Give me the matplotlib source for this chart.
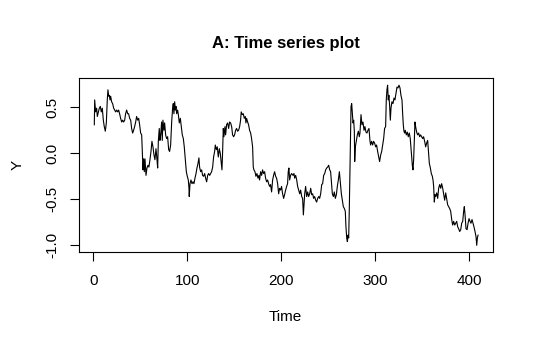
import matplotlib
matplotlib.use("Agg")
import matplotlib.pyplot as plt

plt.rcParams['font.family'] = ['Liberation Sans', 'DejaVu Sans']
plt.rcParams['axes.unicode_minus'] = False

# Values, segment by segment
time_a = [1.1, 1.5, 2.5, 3.6, 4.3, 5.4, 6.4, 7.5, 8.5, 9.6,
          10.7, 11.7, 12.8, 13.9, 14.9, 15.6, 16.4, 17.1, 17.8, 18.5,
          19.5, 20.6, 21.7, 22.7, 23.8, 24.9, 25.9, 27.0, 28.0, 29.1,
          30.2, 31.2, 32.3, 33.4, 34.4, 35.5, 36.6, 37.6, 38.7, 39.8,
          40.8, 41.9, 42.9, 44.0, 45.1, 46.1, 47.2, 48.3, 49.3, 50.4,
          51.5, 52.2, 52.9, 53.6, 54.3, 55.0, 56.1, 57.1, 58.2, 59.2,
          60.3, 61.4, 62.4, 63.5, 64.6, 65.6]
y_a = [0.31, 0.58, 0.45, 0.49, 0.40, 0.45, 0.49, 0.51, 0.45, 0.49,
       0.36, 0.29, 0.24, 0.33, 0.58, 0.69, 0.62, 0.63, 0.58, 0.62,
       0.56, 0.54, 0.49, 0.47, 0.45, 0.47, 0.45, 0.47, 0.43, 0.38,
       0.34, 0.36, 0.34, 0.36, 0.43, 0.47, 0.43, 0.43, 0.38, 0.36,
       0.27, 0.22, 0.25, 0.29, 0.34, 0.40, 0.36, 0.38, 0.31, 0.22,
       0.20, 0.02, -0.18, -0.06, -0.20, -0.06, -0.24, -0.16, -0.13, -0.15,
       -0.07, 0.02, 0.13, 0.07, -0.02, -0.07]

time_b = [66.7, 67.8, 68.5, 69.2, 70.2, 70.9, 71.7, 72.7, 73.4, 74.1,
          75.2, 75.9, 77.0, 78.0, 79.1, 80.2, 81.2, 82.3, 83.4, 84.4,
          85.1, 85.8, 86.6, 87.3, 88.0, 88.7, 89.7, 90.5, 91.5, 92.6,
          93.6, 94.7, 95.8, 96.8, 97.9, 99.0, 100.0, 101.1, 101.8, 102.1,
          102.9, 103.9, 105.0, 106.1, 107.1, 108.2, 109.3, 110.3, 111.4, 112.4,
          113.1, 114.2, 115.3, 116.3, 117.4, 118.5, 119.5, 120.6, 121.7, 122.7,
          123.8, 124.9, 125.9, 127.0, 128.0, 129.1, 129.8, 130.9, 131.9, 133.0,
          134.1, 135.1, 136.2, 136.9, 137.6, 138.3]
y_b = [0.05, -0.07, -0.16, 0.13, 0.27, 0.14, 0.20, 0.34, 0.14, 0.36,
       0.25, 0.33, 0.20, 0.16, 0.18, 0.04, 0.02, 0.09, 0.34, 0.49,
       0.54, 0.43, 0.56, 0.47, 0.51, 0.43, 0.47, 0.42, 0.33, 0.38,
       0.29, 0.20, 0.16, 0.07, -0.07, -0.20, -0.25, -0.29, -0.38, -0.47,
       -0.33, -0.29, -0.33, -0.31, -0.33, -0.27, -0.22, -0.16, -0.11, -0.05,
       -0.15, -0.20, -0.18, -0.24, -0.25, -0.22, -0.27, -0.31, -0.24, -0.22,
       -0.24, -0.22, -0.20, -0.15, -0.04, 0.02, 0.09, 0.04, 0.07, -0.04,
       0.05, 0.00, -0.11, -0.18, 0.02, 0.27]

time_c = [139.0, 140.1, 140.8, 141.8, 142.9, 144.0, 145.0, 146.1, 147.2, 148.2,
          149.3, 150.3, 151.4, 152.5, 153.5, 154.6, 155.7, 156.7, 157.4, 158.5,
          159.6, 160.6, 161.7, 162.4, 163.1, 164.2, 165.2, 166.3, 167.4, 168.4,
          169.5, 170.2, 170.9, 172.0, 173.0, 174.1, 175.2, 176.2, 176.9, 178.0,
          179.1, 180.1, 181.2, 182.3, 183.3, 184.4, 185.5, 186.5, 187.6, 188.6,
          189.7, 190.8, 191.8, 192.9, 194.0, 195.0, 196.1, 197.2, 198.2, 199.3,
          200.3, 201.4, 202.5, 203.5, 204.6, 205.7, 206.7, 207.4, 208.1, 208.9,
          209.9, 211.0]
y_c = [0.18, 0.29, 0.20, 0.31, 0.33, 0.27, 0.34, 0.33, 0.29, 0.20,
       0.18, 0.20, 0.25, 0.27, 0.24, 0.25, 0.29, 0.36, 0.45, 0.42,
       0.43, 0.38, 0.40, 0.33, 0.38, 0.34, 0.31, 0.25, 0.22, 0.16,
       0.07, -0.15, -0.18, -0.20, -0.25, -0.22, -0.27, -0.24, -0.29, -0.20,
       -0.24, -0.18, -0.22, -0.20, -0.27, -0.31, -0.29, -0.33, -0.36, -0.34,
       -0.42, -0.29, -0.24, -0.20, -0.25, -0.27, -0.33, -0.44, -0.38, -0.40,
       -0.36, -0.44, -0.49, -0.45, -0.40, -0.36, -0.33, -0.20, -0.16, -0.29,
       -0.24, -0.22]

time_d = [212.5, 213.5, 214.2, 215.3, 216.4, 217.4, 218.5, 219.6, 220.6, 221.7,
          222.7, 223.5, 224.2, 224.9, 225.9, 227.0, 228.1, 229.1, 230.2, 231.3,
          232.3, 233.4, 234.4, 235.5, 236.6, 237.6, 238.7, 239.8, 240.8, 241.9,
          243.0, 244.0, 245.1, 246.2, 247.2, 248.3, 249.3, 250.4, 251.5, 252.5,
          253.2, 254.3, 255.4, 256.4, 257.5, 258.6, 259.6, 260.7, 261.8, 262.8,
          263.9, 264.9, 266.0, 267.1, 268.1, 268.8, 269.6, 270.3, 271.0, 271.7,
          272.4, 273.1, 273.8, 274.2, 274.9, 275.6, 276.3, 277.0, 277.7, 278.1,
          278.8, 279.8, 280.9, 282.0, 283.0]
y_d = [-0.24, -0.22, -0.27, -0.24, -0.29, -0.36, -0.40, -0.44, -0.40, -0.47,
       -0.49, -0.67, -0.56, -0.44, -0.36, -0.47, -0.42, -0.47, -0.44, -0.38,
       -0.45, -0.44, -0.49, -0.47, -0.51, -0.53, -0.49, -0.47, -0.49, -0.44,
       -0.34, -0.33, -0.24, -0.22, -0.18, -0.16, -0.15, -0.13, -0.18, -0.20,
       -0.29, -0.44, -0.47, -0.42, -0.49, -0.45, -0.36, -0.29, -0.20, -0.31,
       -0.44, -0.51, -0.58, -0.60, -0.63, -0.80, -0.92, -0.96, -0.89, -0.92,
       -0.58, -0.16, 0.25, 0.51, 0.54, 0.43, 0.33, 0.36, 0.24, -0.09,
       0.07, 0.13, 0.20, 0.24, 0.18]

time_e = [283.7, 284.8, 285.8, 286.9, 288.0, 289.0, 290.1, 291.1, 292.2, 293.3,
          294.3, 295.0, 296.1, 297.2, 298.2, 299.3, 300.4, 301.4, 302.5, 303.6,
          304.6, 305.7, 306.8, 307.8, 308.9, 309.9, 311.0, 311.7, 312.4, 313.1,
          313.8, 314.5, 315.3, 316.0, 316.7, 317.7, 318.8, 319.9, 320.9, 322.0,
          323.1, 324.1, 325.2, 326.3, 327.3, 328.4, 329.1, 329.8, 330.5, 331.2,
          331.9, 333.0, 334.1, 335.1, 336.2, 337.2, 337.9, 338.7, 339.4, 340.1,
          340.8, 341.5, 342.2, 342.9, 344.0, 345.0, 346.1, 347.2, 348.2, 349.3,
          350.4, 351.4, 352.5, 353.6, 354.6, 355.7]
y_e = [0.22, 0.42, 0.31, 0.34, 0.25, 0.29, 0.23, 0.22, 0.25, 0.27,
       0.14, 0.09, 0.13, 0.09, 0.13, 0.11, 0.07, 0.09, 0.02, -0.04,
       -0.09, -0.02, 0.02, 0.09, 0.16, 0.27, 0.29, 0.58, 0.69, 0.74,
       0.58, 0.63, 0.51, 0.36, 0.49, 0.56, 0.54, 0.60, 0.58, 0.65,
       0.72, 0.71, 0.74, 0.71, 0.63, 0.58, 0.43, 0.31, 0.24, 0.22,
       0.25, 0.20, 0.23, 0.18, 0.22, 0.16, 0.07, -0.04, -0.13, -0.18,
       -0.07, 0.14, 0.34, 0.29, 0.23, 0.20, 0.22, 0.18, 0.20, 0.18,
       0.16, 0.18, 0.13, 0.07, 0.11, 0.14]

time_f = [357.5, 358.6, 359.6, 360.7, 361.4, 362.1, 362.8, 363.5, 364.3, 365.3,
          366.4, 367.4, 368.5, 369.6, 370.6, 371.7, 372.8, 373.8, 374.9, 375.9,
          377.0, 378.1, 379.1, 380.2, 381.3, 382.3, 383.4, 384.5, 385.5, 386.6,
          387.7, 388.7, 389.8, 390.9, 391.9, 393.0, 394.0, 394.7, 395.5, 396.5,
          397.6, 398.7, 399.7, 400.8, 401.8, 402.9, 404.0, 405.0, 406.1, 407.2,
          407.9, 408.6, 409.3]
y_f = [-0.11, -0.16, -0.22, -0.25, -0.29, -0.36, -0.53, -0.45, -0.47, -0.43,
       -0.49, -0.38, -0.34, -0.38, -0.33, -0.38, -0.45, -0.51, -0.43, -0.49,
       -0.56, -0.58, -0.60, -0.63, -0.72, -0.78, -0.74, -0.78, -0.76, -0.74,
       -0.80, -0.82, -0.85, -0.83, -0.76, -0.74, -0.63, -0.58, -0.67, -0.82,
       -0.83, -0.76, -0.71, -0.74, -0.76, -0.72, -0.76, -0.80, -0.85, -0.91,
       -1.00, -0.92, -0.89]

time = time_a + time_b + time_c + time_d + time_e + time_f
y = y_a + y_b + y_c + y_d + y_e + y_f

x_ticks = [0, 100, 200, 300, 400]
y_ticks = [-1.0, -0.5, 0.0, 0.5]
y_tick_labels = ["-1.0", "-0.5", "0.0", "0.5"]

W, H = 534, 350
fig = plt.figure(figsize=(W / 100, H / 100), dpi=100)
left, right, top, bottom = 78.7, 492.7, 78.3, 252.3
ax = fig.add_axes([left / W, 1 - bottom / H, (right - left) / W, (bottom - top) / H])

ax.plot(time, y, color='black', lw=0.8)

ax.set_xlim(-15.5, 424.9)
ax.set_ylim(-1.076, 0.815)
ax.set_xticks(x_ticks)
ax.set_xticklabels([str(v) for v in x_ticks])
ax.set_yticks(y_ticks)
ax.set_yticklabels(y_tick_labels, rotation=90, va='center')

for s in ax.spines.values():
    s.set_linewidth(0.8)
    s.set_color('black')

ax.tick_params(axis='both', direction='out', length=6.8, width=0.8,
               labelsize=11, colors='black')
ax.tick_params(axis='x', pad=8.5)
ax.tick_params(axis='y', pad=7)

ax.set_xlabel("Time", fontsize=11, labelpad=16.5)
ax.set_ylabel("Y", fontsize=11, labelpad=15)
ax.set_title("A: Time series plot", fontsize=12, fontweight='bold', pad=21.8)

fig.savefig("out.png", dpi=100)
